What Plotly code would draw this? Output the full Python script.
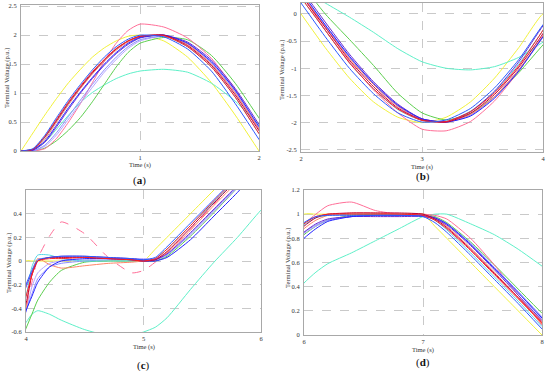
import plotly.graph_objects as go

# time samples (s)
T = [0, 0.1, 0.2, 0.3, 0.4, 0.5, 0.6, 0.7, 0.8, 0.9, 1.0,
     1.2, 1.4, 1.6, 1.8, 2.0,
     2.2, 2.4, 2.6, 2.8, 3.0, 3.2, 3.4, 3.6, 3.8, 4.0,
     4.05, 4.1, 4.2, 4.3, 4.5, 4.7, 4.9, 5.0, 5.1, 5.2, 5.4, 5.6, 5.8, 6.0,
     6.1, 6.2, 6.4, 6.6, 6.8, 7.0, 7.1, 7.2, 7.4, 7.6, 7.8, 8.0]

yellow = [0, 0.31, 0.62, 0.91, 1.18, 1.41, 1.62, 1.78, 1.90, 1.98, 2.0,
          1.90, 1.62, 1.18, 0.62, 0.0,
          -0.62, -1.18, -1.62, -1.90, -2.0, -1.90, -1.62, -1.18, -0.62, 0.0,
          0, 0, 0, 0, 0, 0, 0, 0, 0.1, 0.2, 0.4, 0.6, 0.8, 1.0,
          1, 1, 1, 1, 1, 1, 0.9, 0.8, 0.6, 0.4, 0.2, 0.0]

turquoise = [0, 0.02, 0.15, 0.38, 0.62, 0.84, 1.01, 1.14, 1.25, 1.33, 1.38,
             1.41, 1.36, 1.17, 0.86, 0.46,
             0.2, -0.06, -0.34, -0.64, -0.88, -1.0, -1.03, -0.97, -0.8, -0.52,
             -0.45, -0.42, -0.45, -0.5, -0.58, -0.63, -0.63, -0.6, -0.56, -0.48, -0.24, -0.01, 0.2, 0.43,
             0.52, 0.59, 0.68, 0.78, 0.88, 0.98, 1.0, 1.0, 0.92, 0.83, 0.71, 0.57]

pink = [0, 0.0, 0.04, 0.22, 0.5, 0.82, 1.18, 1.55, 1.86, 2.08, 2.19,
        2.14, 1.95, 1.6, 1.06, 0.38,
        -0.3, -0.88, -1.4, -1.82, -2.12, -2.15, -1.98, -1.6, -1.05, -0.4,
        -0.18, 0.02, 0.21, 0.33, 0.23, 0.03, -0.1, -0.08, -0.01, 0.07, 0.27, 0.48, 0.7, 0.92,
        1.0, 1.07, 1.1, 1.03, 1.0, 1.0, 0.99, 0.96, 0.8, 0.58, 0.33, 0.08]

green = [0, 0, 0.05, 0.18, 0.36, 0.58, 0.85, 1.15, 1.45, 1.7, 1.86,
         1.96, 1.92, 1.65, 1.17, 0.57,
         0.0, -0.47, -0.95, -1.46, -1.82, -1.95, -1.83, -1.52, -1.08, -0.57,
         -0.45, -0.33, -0.18, -0.08, -0.01, 0.0, 0.0, 0.0, 0.0, 0.04, 0.21, 0.41, 0.62, 0.83,
         0.9, 0.95, 0.99, 1.0, 1.0, 1.0, 0.98, 0.93, 0.77, 0.58, 0.38, 0.18]

red = [0, 0.03, 0.25, 0.55, 0.85, 1.12, 1.37, 1.58, 1.77, 1.9, 1.98,
       1.99, 1.8, 1.45, 0.93, 0.3,
       -0.3, -0.9, -1.38, -1.75, -1.96, -1.98, -1.8, -1.45, -0.95, -0.3,
       -0.12, 0.0, 0.02, 0.02, 0.03, 0.02, 0.01, 0.0, 0.02, 0.1, 0.3, 0.51, 0.71, 0.92,
       0.98, 1.0, 1.0, 1.0, 1.0, 0.99, 0.95, 0.88, 0.7, 0.5, 0.3, 0.1]

darkred = [0, 0.03, 0.24, 0.53, 0.83, 1.1, 1.35, 1.57, 1.76, 1.9, 1.98,
           2.0, 1.82, 1.48, 0.97, 0.35,
           -0.25, -0.85, -1.34, -1.73, -1.95, -1.99, -1.83, -1.48, -0.98, -0.36,
           -0.12, 0.0, 0.03, 0.03, 0.03, 0.02, 0.01, 0.0, 0.01, 0.08, 0.28, 0.49, 0.69, 0.9,
           0.97, 1.0, 1.01, 1.01, 1.01, 1.0, 0.96, 0.89, 0.71, 0.51, 0.31, 0.11]

salmon = [0, 0.02, 0.2, 0.5, 0.8, 1.08, 1.33, 1.55, 1.74, 1.88, 1.97,
          2.0, 1.84, 1.5, 1.0, 0.38,
          -0.24, -0.82, -1.3, -1.7, -1.93, -1.99, -1.85, -1.52, -1.02, -0.4,
          -0.1, 0.02, -0.03, -0.06, -0.04, -0.02, -0.01, 0.0, 0.01, 0.07, 0.26, 0.47, 0.67, 0.88,
          0.95, 0.99, 1.01, 1.01, 1.0, 1.0, 0.97, 0.9, 0.72, 0.52, 0.31, 0.09]

blue = [0, 0.02, 0.17, 0.45, 0.75, 1.02, 1.27, 1.5, 1.7, 1.86, 1.96,
        2.0, 1.86, 1.54, 1.05, 0.42,
        -0.2, -0.78, -1.28, -1.68, -1.93, -1.99, -1.88, -1.55, -1.05, -0.42,
        -0.3, -0.18, -0.05, 0.0, 0.02, 0.02, 0.01, 0.0, 0.0, 0.03, 0.18, 0.38, 0.58, 0.8,
        0.88, 0.94, 0.98, 0.99, 0.99, 0.99, 0.97, 0.92, 0.75, 0.55, 0.35, 0.14]

royal = [0, 0.04, 0.27, 0.58, 0.88, 1.15, 1.4, 1.62, 1.8, 1.93, 2.0,
         1.97, 1.76, 1.38, 0.82, 0.2,
         -0.42, -1.0, -1.47, -1.82, -1.99, -1.95, -1.74, -1.36, -0.84, -0.2,
         -0.08, 0.01, 0.03, 0.04, 0.04, 0.03, 0.02, 0.01, 0.03, 0.12, 0.32, 0.52, 0.72, 0.93,
         0.98, 0.99, 0.99, 0.99, 0.99, 0.98, 0.93, 0.85, 0.66, 0.46, 0.26, 0.05]

purple = [0, 0.01, 0.15, 0.42, 0.72, 1.0, 1.25, 1.48, 1.68, 1.84, 1.95,
          2.0, 1.88, 1.57, 1.08, 0.46,
          -0.15, -0.74, -1.25, -1.66, -1.93, -1.98, -1.8, -1.42, -0.88, -0.22,
          -0.1, 0.0, 0.03, 0.04, 0.04, 0.03, 0.02, 0.01, 0.01, 0.06, 0.24, 0.44, 0.64, 0.85,
          0.92, 0.96, 0.98, 0.98, 0.98, 0.98, 0.96, 0.91, 0.74, 0.54, 0.33, 0.12]

lightblue = [0, 0.0, 0.1, 0.32, 0.6, 0.88, 1.15, 1.4, 1.62, 1.8, 1.92,
             1.98, 1.85, 1.52, 1.02, 0.38,
             -0.22, -0.8, -1.3, -1.7, -1.95, -1.99, -1.86, -1.52, -1.03, -0.42,
             -0.28, -0.15, -0.05, -0.02, 0.0, 0.01, 0.01, 0.01, 0.01, 0.05, 0.23, 0.43, 0.63, 0.85,
             0.91, 0.95, 0.98, 0.99, 0.99, 0.99, 0.97, 0.92, 0.76, 0.56, 0.36, 0.15]

lavender = [0, 0.0, 0.08, 0.28, 0.55, 0.83, 1.1, 1.36, 1.58, 1.77, 1.9,
            1.98, 1.86, 1.54, 1.04, 0.4,
            -0.2, -0.78, -1.28, -1.68, -1.94, -1.99, -1.87, -1.53, -1.04, -0.43,
            -0.22, -0.1, -0.02, 0.0, 0.01, 0.02, 0.02, 0.02, 0.02, 0.06, 0.22, 0.42, 0.62, 0.84,
            0.9, 0.95, 0.98, 0.99, 0.99, 0.99, 0.97, 0.92, 0.75, 0.55, 0.35, 0.13]

cyan = [0, 0.03, 0.23, 0.52, 0.82, 1.1, 1.35, 1.57, 1.76, 1.9, 1.98,
        1.99, 1.8, 1.45, 0.93, 0.3,
        -0.3, -0.9, -1.38, -1.76, -1.96, -1.98, -1.79, -1.43, -0.92, -0.3,
        -0.05, 0.05, 0.05, 0.02, 0.0, 0.0, 0.0, 0.0, 0.02, 0.1, 0.3, 0.5, 0.7, 0.91,
        0.97, 0.99, 1.0, 1.0, 1.0, 0.99, 0.95, 0.87, 0.68, 0.48, 0.28, 0.07]

series = [
    ("yellow", "#f2f23a", yellow),
    ("turquoise", "#5ef0c8", turquoise),
    ("green", "#5ccf4e", green),
    ("pink", "#ff6f98", pink),
    ("lavender", "#b4a4ff", lavender),
    ("lightblue", "#8c8cff", lightblue),
    ("cyan", "#56d6e8", cyan),
    ("salmon", "#ff8466", salmon),
    ("purple", "#6a2ed2", purple),
    ("blue", "#2424ff", blue),
    ("darkred", "#c0003a", darkred),
    ("red", "#ff2020", red),
    ("royal", "#2a5cff", royal),
]

panels = [
    dict(ax="", x=[0, 2], y=[0, 2.52], xt=[1, 2], yt=[0, 0.5, 1, 1.5, 2, 2.5],
         ytt=["0", "0.5", "1", "1.5", "2", "2.5"], xd=[21, 259], yd=[5, 151]),
    dict(ax="2", x=[2, 4], y=[-2.54, 0.2], xt=[2, 3, 4], yt=[0, -0.5, -1, -1.5, -2, -2.5],
         ytt=["0", "-0.5", "-1", "-1.5", "-2", "-2.5"], xd=[301, 543], yd=[3, 152]),
    dict(ax="3", x=[4, 6], y=[-0.6, 0.6], xt=[4, 5, 6], yt=[-0.6, -0.4, -0.2, 0, 0.2, 0.4],
         ytt=["-0.6", "-0.4", "-0.2", "0", "0.2", "0.4"], xd=[26, 261], yd=[190, 332]),
    dict(ax="4", x=[6, 8], y=[0, 1.2], xt=[6, 7, 8], yt=[0, 0.2, 0.4, 0.6, 0.8, 1, 1.2],
         ytt=["0", "0.2", "0.4", "0.6", "0.8", "1", "1.2"], xd=[304, 542], yd=[190, 335]),
]

W, H = 550, 371
fig = go.Figure()
tickfont = dict(family="Liberation Serif", size=6.5, color="#333333")

for i, p in enumerate(panels):
    for name, col, vals in series:
        dash = "dash" if (name == "pink" and i == 2) else "solid"
        fig.add_trace(go.Scatter(
            x=T, y=vals, mode="lines", name=name, showlegend=False,
            line=dict(color=col, width=1, shape="spline", smoothing=0.6, dash=dash),
            xaxis="x" + p["ax"], yaxis="y" + p["ax"], hoverinfo="skip"))
    common = dict(showgrid=True, gridcolor="#c9c9c9", griddash="dash", gridwidth=1,
                  showline=True, mirror=True, linecolor="#a8a8a8", linewidth=1,
                  zeroline=False, ticks="", tickfont=tickfont, automargin=False)
    xa = dict(domain=[p["xd"][0] / W, p["xd"][1] / W], range=p["x"], tickvals=p["xt"],
              ticktext=[str(v) for v in p["xt"]],
              anchor="y" + p["ax"], ticklabelstandoff=0, **common)
    ya = dict(domain=[1 - p["yd"][1] / H, 1 - p["yd"][0] / H], range=p["y"], tickvals=p["yt"],
              ticktext=p["ytt"], anchor="x" + p["ax"], ticklabelstandoff=2, **common)
    fig.layout["xaxis" + p["ax"]] = xa
    fig.layout["yaxis" + p["ax"]] = ya

annos = []
base = dict(xref="paper", yref="paper", showarrow=False, xanchor="center", yanchor="middle")
# x titles
for cx, py in [((21 + 259) / 2, 165.5), ((301 + 543) / 2, 167), ((26 + 261) / 2, 347), ((304 + 542) / 2, 350)]:
    annos.append(dict(x=cx / W, y=1 - py / H, text="Time (s)",
                      font=dict(family="Liberation Serif", size=6.5, color="#333"), **base))
# y titles
for px, py in [(7, 78), (282, 70), (9, 263), (288, 258)]:
    annos.append(dict(x=px / W, y=1 - py / H, text="Terminal Voltage (p.u.)", textangle=-90,
                      font=dict(family="Liberation Serif", size=6.5, color="#333"), **base))
# panel labels
for lab, px, py in [("a", 140, 180), ("b", 423, 176), ("c", 143, 365), ("d", 423, 362)]:
    annos.append(dict(x=px / W, y=1 - py / H, text="(<b>" + lab + "</b>)",
                      font=dict(family="Liberation Serif", size=11, color="#111"), **base))

fig.update_layout(width=W, height=H, margin=dict(l=0, r=0, t=0, b=0),
                  paper_bgcolor="white", plot_bgcolor="white", annotations=annos)
fig.write_html("out.html", config={"displayModeBar": False},
               post_script="document.body.style.margin='0';document.body.style.overflow='hidden';")
